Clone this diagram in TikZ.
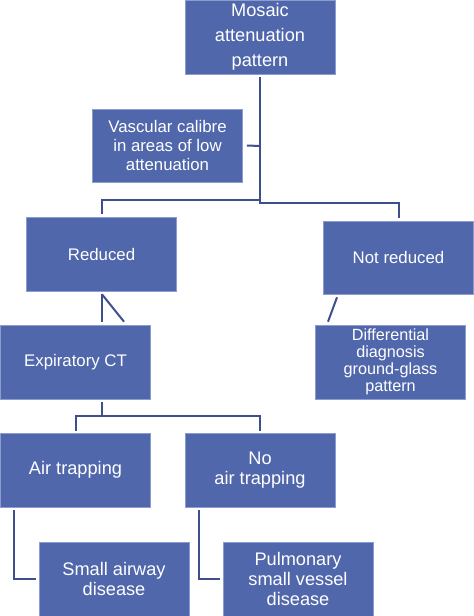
\documentclass[tikz,border=0pt]{standalone}
\usepackage{fontspec}
\setmainfont{Liberation Sans}
\usetikzlibrary{positioning}
\definecolor{boxblue}{HTML}{5067AB}
\definecolor{boxedge}{HTML}{8C9BD0}
\definecolor{linkblue}{HTML}{3F4F8E}
\newcommand{\bigtxt}{\fontsize{18.2}{25}\selectfont}
\newcommand{\midtxt}{\fontsize{16.8}{19}\selectfont}
\newcommand{\smltxt}{\fontsize{16.2}{17}\selectfont}
\newcommand{\lowtxt}{\fontsize{18.2}{20}\selectfont}

\begin{document}
\begin{tikzpicture}[x=1pt, y=-1pt,
        box/.style={fill=boxblue, draw=boxedge, line width=0.6pt, text=white, align=center,
            minimum width=150pt, minimum height=74pt, inner sep=0pt},
        link/.style={draw=linkblue, line width=2pt}]
        \useasboundingbox (0,0) rectangle (474,616);

        % boxes
        \node[box, font=\bigtxt] (mosaic) at (260,37) {Mosaic\\attenuation\\pattern};
        \node[box, font=\midtxt, minimum height=73pt] (calibre) at (167.5,145.5) {Vascular calibre\\in areas of low\\attenuation};
        \node[box, font=\midtxt] (reduced) at (101.5,254) {Reduced};
        \node[box, font=\midtxt, minimum height=73pt] (notreduced) at (398.5,257.5) {Not reduced};
        \node[box, font=\midtxt] (expiratory) at (75.5,362) {Expiratory CT};
        \node[box, font=\smltxt] (ddx) at (390.5,362) {Differential\\diagnosis\\ground-glass\\pattern};
        \node[box, font=\lowtxt] (trapping) at (75.5,470) {\raisebox{5pt}{Air trapping}};
        \node[box, font=\lowtxt] (notrapping) at (260,470) {No\\air trapping};
        \node[box, font=\lowtxt] (airway) at (114,579) {Small airway\\disease};
        \node[box, font=\lowtxt] (vessel) at (298,579) {Pulmonary\\small vessel\\disease};

        % junctions
        \coordinate (split) at (260,203);
        \coordinate (splitleft) at (260,200);
        \coordinate (tick) at (260,146);
        \coordinate (fork) at (102,416);

        % connectors
        \draw[link] ([yshift=-3pt]mosaic.south) -- (split) -| ([yshift=3pt]notreduced.north);
        \draw[link] (splitleft) -| ([xshift=0.5pt, yshift=3pt]reduced.north);
        \draw[link] ([xshift=4pt]calibre.east) -- (tick);
        \draw[link] ([xshift=0.5pt, yshift=-3pt]reduced.south) -- ([xshift=26.5pt, yshift=3pt]expiratory.north);
        \draw[link] ([xshift=0.5pt, yshift=-3pt]reduced.south) -- ([xshift=48.5pt, yshift=3pt]expiratory.north);
        \draw[link] ([xshift=-61.5pt, yshift=-3pt]notreduced.south) -- ([xshift=-62.5pt, yshift=3pt]ddx.north);
        \draw[link] ([xshift=26.5pt, yshift=-3pt]expiratory.south) -- (fork);
        \draw[link] ([yshift=2pt]trapping.north) |- (fork) -| ([yshift=2pt]notrapping.north);
        \draw[link] ([xshift=-61.5pt, yshift=-3pt]trapping.south) |- ([xshift=-3pt]airway.west);
        \draw[link] ([xshift=-61pt, yshift=-3pt]notrapping.south) |- ([xshift=-3pt]vessel.west);
\end{tikzpicture}
\end{document}
